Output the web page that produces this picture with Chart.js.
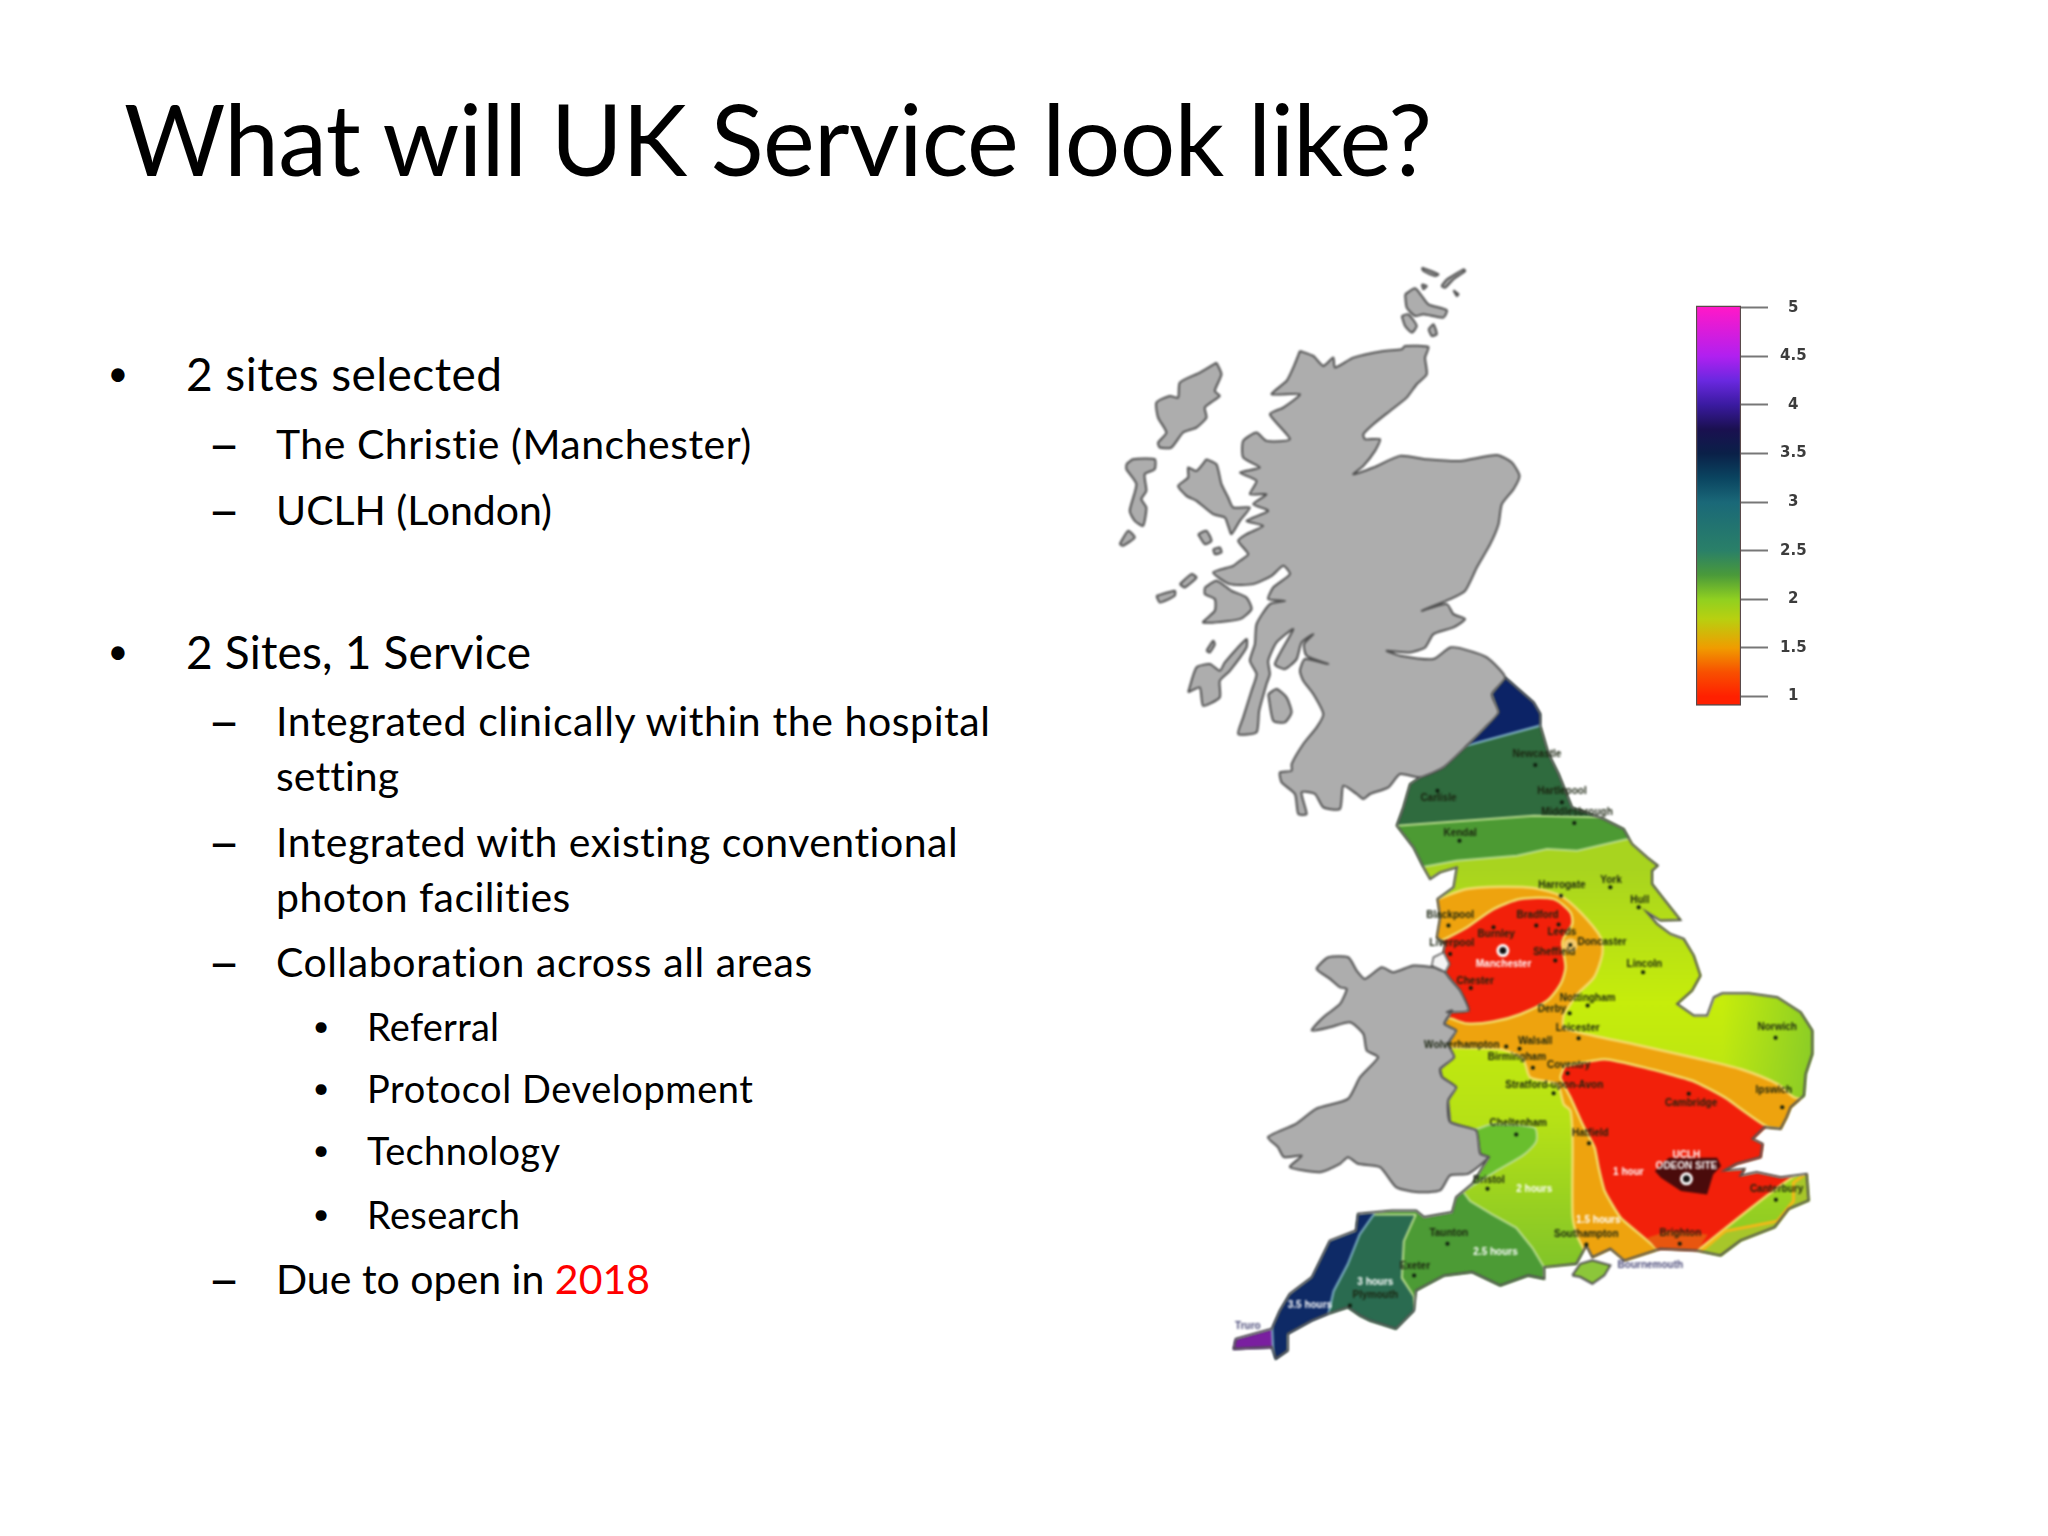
<!DOCTYPE html>
<html><head><meta charset="utf-8">
<script src="https://cdn.jsdelivr.net/npm/chart.js@4/dist/chart.umd.min.js"></script>
<style>
html,body{margin:0;padding:0;background:#fff;width:2048px;height:1536px;overflow:hidden}
canvas{position:absolute;display:block}
.t{position:absolute;white-space:pre;font-family:Lato,sans-serif;color:#000}
</style></head><body>
<script>
/* ---------- slide text ---------- */
const titleText = "What will UK Service look like?";
const slideTexts = ["2 sites selected","The Christie (Manchester)","UCLH (London)","2 Sites, 1 Service",
 "Integrated clinically within the hospital","setting","Integrated with existing conventional","photon facilities",
 "Collaboration across all areas","Referral","Protocol Development","Technology","Research","Due to open in "];
const slideLevels = [1,2,2,1,2,0,2,0,2,3,3,3,3,2];
const slideBaselines = [391,459,525,669,736,791,857,912,977,1041,1103,1165,1229,1294];
const slideRights = [502,752,552,531,990,398,959,571,813,499,753,560,520,650];

/* ---------- colour scale ---------- */
const scaleTicks = [1,1.5,2,2.5,3,3.5,4,4.5,5];
const scaleRange = [0.91,5.02];
const scaleStopValues = [5,4.5,4.25,4,3.75,3.5,3.25,3,2.5,2.25,2,1.8,1.5,1.25,1];
const scaleStopColours = ['#ff18c8','#b020f0','#6a28e0','#3a1aa0','#1a1050','#0a2048','#0a4460','#1a6878','#2a8068','#4a9a3a','#90d020','#b8d010','#f09c00','#f85000','#ff2000'];

/* ---------- map outlines (map units) ---------- */
const scotland=[[600,300],[640,315],[670,345],[700,320],[705,350],[760,320],[850,300],[905,295],[915,285],[985,288],[975,320],[980,370],[950,400],[920,440],[870,480],[820,520],[790,550],[795,565],[840,565],[825,600],[790,645],[760,670],[820,650],[900,615],[980,625],[1080,630],[1190,612],[1235,635],[1258,675],[1240,715],[1205,760],[1195,820],[1170,880],[1130,950],[1095,1020],[1050,1045],[965,1080],[1040,1060],[1060,1090],[1095,1105],[1060,1130],[1000,1150],[975,1190],[930,1205],[860,1200],[900,1215],[1000,1225],[1050,1190],[1090,1195],[1160,1220],[1215,1280],[1175,1330],[1195,1385],[1155,1430],[1105,1480],[1030,1550],[960,1580],[900,1570],[865,1610],[810,1630],[790,1645],[770,1630],[730,1605],[720,1675],[670,1670],[645,1630],[605,1625],[620,1690],[595,1690],[585,1630],[545,1595],[540,1565],[575,1560],[575,1540],[610,1480],[650,1430],[670,1390],[640,1330],[610,1290],[600,1260],[615,1225],[685,1240],[620,1215],[612,1180],[640,1150],[605,1175],[590,1225],[555,1255],[525,1240],[580,1135],[530,1175],[505,1230],[510,1270],[500,1300],[478,1380],[470,1445],[415,1450],[430,1400],[455,1320],[470,1270],[450,1230],[465,1180],[470,1120],[510,1060],[555,1050],[505,1045],[520,1010],[570,970],[550,945],[515,975],[460,1000],[390,1000],[340,965],[400,945],[420,930],[445,910],[415,870],[440,850],[490,825],[440,810],[505,780],[460,760],[500,730],[450,730],[470,690],[420,665],[480,650],[430,620],[430,570],[470,545],[500,570],[570,565],[510,490],[550,470],[600,430],[515,430],[560,390],[580,350]];
const wales=[[1035,2165],[1000,2150],[940,2145],[880,2165],[845,2150],[795,2185],[770,2160],[745,2120],[685,2120],[650,2155],[690,2185],[720,2210],[740,2215],[720,2260],[670,2300],[635,2340],[690,2330],[750,2315],[790,2350],[800,2400],[834,2420],[780,2480],[744,2545],[648,2575],[588,2620],[504,2660],[534,2690],[552,2720],[606,2715],[570,2750],[660,2765],[720,2740],[744,2720],[774,2740],[840,2750],[888,2810],[948,2825],[1020,2820],[1050,2775],[1104,2770],[1166,2720],[1140,2710],[1128,2640],[1050,2615],[1044,2550],[1068,2510],[1026,2480],[1020,2455],[1062,2420],[1044,2380],[1068,2340],[1032,2320],[1056,2280],[1040,2285],[1105,2280],[1080,2220],[1050,2185]];
const england=[[1215,1280],[1260,1320],[1300,1355],[1320,1390],[1320,1425],[1345,1510],[1375,1570],[1415,1670],[1510,1705],[1570,1735],[1595,1780],[1640,1820],[1672,1845],[1655,1860],[1655,1900],[1690,1945],[1740,2008],[1680,2010],[1640,1985],[1670,2020],[1710,2050],[1750,2065],[1780,2115],[1800,2175],[1775,2220],[1730,2260],[1780,2295],[1820,2295],[1840,2240],[1865,2228],[1945,2228],[2030,2240],[2100,2285],[2135,2340],[2135,2410],[2115,2470],[2110,2535],[2070,2570],[2058,2600],[2040,2635],[1992,2630],[1956,2665],[1986,2680],[1980,2720],[1908,2740],[1872,2760],[1932,2755],[1920,2775],[1968,2765],[2040,2780],[2118,2770],[2124,2850],[2064,2875],[2022,2930],[1920,2970],[1860,3015],[1788,3000],[1680,2995],[1572,3030],[1530,2995],[1476,3020],[1458,2985],[1428,3040],[1332,3050],[1332,3085],[1284,3075],[1200,3105],[1116,3065],[1032,3075],[948,3120],[942,3180],[888,3235],[810,3210],[780,3195],[744,3170],[684,3190],[636,3210],[564,3250],[564,3300],[528,3325],[516,3290],[402,3295],[408,3265],[516,3235],[540,3180],[570,3130],[636,3080],[690,2970],[768,2940],[774,2890],[876,2880],[948,2880],[972,2900],[1056,2885],[1068,2840],[1116,2800],[1166,2720],[1140,2710],[1128,2640],[1050,2615],[1044,2550],[1068,2510],[1026,2480],[1020,2455],[1062,2420],[1044,2380],[1068,2340],[1032,2320],[1056,2280],[1040,2285],[1105,2280],[1080,2220],[1050,2185],[1035,2165],[1048,2140],[1030,2105],[1035,2080],[1010,2060],[1020,2000],[1012,1945],[1060,1910],[1070,1850],[1020,1865],[990,1885],[970,1850],[940,1790],[890,1725],[910,1670],[930,1600],[960,1580],[1030,1550],[1105,1480],[1155,1430],[1195,1385],[1175,1330]];
const wirral=[[1030,2105],[1000,2120],[995,2145],[1035,2165],[1048,2140]];
const lewis=[[350,335],[365,370],[345,420],[360,435],[340,450],[315,470],[320,500],[290,530],[250,545],[215,590],[180,590],[175,575],[200,545],[175,500],[170,455],[210,435],[235,440],[240,395],[300,365]];
const uist=[[80,640],[100,625],[165,625],[165,655],[135,670],[140,720],[125,745],[140,770],[130,825],[105,810],[90,780],[110,700],[80,655]];
const barra=[[60,880],[85,840],[105,860],[70,885]];
const skye=[[320,625],[350,640],[365,700],[385,740],[400,770],[450,770],[420,810],[395,850],[385,825],[375,800],[340,790],[290,750],[260,735],[235,705],[265,680],[265,650],[290,660]];
const rum=[[295,850],[320,840],[335,870],[315,880]];
const eigg=[[340,895],[360,890],[365,905],[345,910]];
const coll=[[240,1000],[275,970],[290,980],[255,1010]];
const tiree=[[170,1035],[225,1020],[225,1035],[180,1055]];
const mull=[[315,1010],[350,990],[395,1020],[440,1040],[455,1075],[420,1105],[310,1115],[345,1080],[345,1045],[315,1030]];
const colonsay=[[320,1200],[340,1170],[345,1180],[330,1205]];
const islay=[[265,1325],[290,1250],[330,1240],[360,1260],[375,1235],[440,1165],[440,1190],[390,1260],[360,1290],[360,1340],[310,1365],[300,1310]];
const arran=[[505,1330],[530,1315],[560,1340],[575,1385],[555,1415],[520,1410]];
const orkney=[[915,130],[945,112],[965,135],[985,160],[1040,178],[1030,200],[970,190],[945,195],[920,170]];
const hoy=[[905,195],[925,190],[950,225],[935,245],[915,225]];
const ronaldsay=[[985,235],[1000,220],[1010,250],[995,255]];
const westray=[[965,50],[1015,70],[1005,75],[970,60]];
const sanday=[[1040,85],[1090,55],[1095,60],[1060,85],[1035,110],[1025,105]];
const northRonaldsay=[[1060,118],[1075,130],[1070,135]];
const rousay=[[965,100],[980,105],[970,115]];
const wight=[[1416,3075],[1440,3040],[1476,3030],[1530,3045],[1512,3075],[1476,3100],[1440,3080]];

/* ---------- travel-time zones, bottom to top ---------- */
const zBase=[[0,1200],[2280,1200],[2280,3450],[0,3450]];
const zEastFade=[[1800,2200],[2200,2200],[2200,2600],[1800,2600]];
const zMidGreen=[[800,1200],[1800,1200],[1800,1760],[1580,1765],[1430,1800],[1340,1795],[1250,1815],[1070,1830],[960,1850],[800,1850]];
const zDarkGreen=[[800,1200],[1800,1200],[1800,1695],[1515,1700],[1300,1695],[890,1725],[800,1730]];
const zNavy=[[1100,1485],[1320,1425],[1400,1200],[1000,1200]];
const zOrange=[[1012,1945],[1100,1915],[1200,1908],[1300,1912],[1380,1935],[1440,1985],[1500,2060],[1505,2110],[1480,2180],[1430,2230],[1400,2275],[1390,2290],[1390,2330],[1460,2350],[1600,2380],[1800,2425],[1920,2455],[2030,2500],[2080,2540],[2200,2560],[2200,2650],[2040,2650],[2000,2660],[1680,3000],[1680,3100],[1440,3100],[1458,3020],[1428,2950],[1416,2890],[1416,2670],[1410,2580],[1390,2560],[1370,2500],[1290,2480],[1275,2440],[1265,2420],[1200,2395],[1030,2390],[900,2390],[900,1950]];
const zRedNorth=[[1025,2070],[1100,2030],[1180,1975],[1260,1945],[1360,1945],[1410,1985],[1415,2020],[1390,2060],[1385,2080],[1395,2150],[1380,2200],[1340,2250],[1260,2290],[1180,2312],[1100,2318],[1040,2300],[900,2300],[900,2070]];
const zRedSouth=[[1392,2445],[1512,2425],[1632,2450],[1776,2490],[1872,2540],[2004,2630],[2200,2650],[2200,2800],[2088,2770],[1788,3000],[1740,3050],[1668,3050],[1668,2995],[1560,2900],[1512,2820],[1494,2750],[1482,2690],[1446,2620],[1410,2540],[1380,2480]];
const zBrighton=[[1668,2995],[1788,3000],[1820,2950],[1700,2940],[1640,2960]];
const zKent=[[1788,3010],[1872,2940],[2028,2910],[2076,2850],[2076,2795],[2136,2750],[2200,2900],[2200,3150],[1788,3150]];
const zLondon=[[1662,2760],[1704,2720],[1848,2720],[1860,2745],[1836,2770],[1818,2830],[1740,2820],[1680,2780]];
const zCheltenham=[[1128,2635],[1176,2620],[1302,2630],[1308,2670],[1272,2710],[1188,2760],[1140,2790],[1080,2820],[1000,2750],[1000,2640]];
const zSwGreen=[[1080,2810],[1110,2850],[1176,2890],[1248,2930],[1296,2990],[1332,3050],[1332,3200],[720,3350],[720,2850]];
const zSwDark=[[948,2890],[912,2970],[906,3080],[942,3135],[960,3350],[400,3350],[400,2890]];
const zSwNavy=[[822,2890],[780,2950],[744,3040],[702,3120],[684,3200],[500,3400],[300,3400],[300,2800],[822,2800]];
const zPurple=[[518,3220],[522,3310],[360,3350],[360,3220]];
const doncasterHalo=[[1410,2083]];

/* ---------- places ---------- */
const cityNames=["Newcastle","Carlisle","Hartlepool","Middlesbrough","Kendal","Harrogate","York","Hull","Blackpool","Liverpool","Burnley","Bradford","Leeds","Doncaster","Sheffield","Chester","Lincoln","Nottingham","Derby","Leicester","Norwich","Ipswich","Cambridge","Wolverhampton","Walsall","Birmingham","Coventry","Stratford-upon-Avon","Cheltenham","Bristol","Hatfield","Taunton","Exeter","Plymouth","Southampton","Brighton","Canterbury"];
const cityDots=[[1305,1543],[1012,1620],[1385,1655],[1422,1717],[1078,1770],[1382,1935],[1530,1910],[1615,1970],[1045,2025],[1050,2110],[1180,2030],[1308,2025],[1375,2022],[1410,2083],[1365,2130],[1112,2212],[1628,2165],[1462,2265],[1408,2288],[1435,2363],[2025,2362],[2045,2570],[1765,2530],[1218,2388],[1258,2395],[1298,2452],[1402,2468],[1360,2528],[1248,2652],[1162,2815],[1466,2678],[1042,2980],[942,3075],[750,3165],[1458,2982],[1738,2980],[2026,2848]];
const cityLabels=[[1310,1512],[1015,1642],[1385,1623],[1430,1685],[1080,1748],[1385,1905],[1532,1888],[1618,1948],[1050,1995],[1055,2078],[1188,2052],[1312,1993],[1385,2045],[1505,2075],[1362,2105],[1125,2193],[1632,2142],[1462,2242],[1355,2275],[1432,2332],[2030,2330],[2020,2520],[1772,2558],[1085,2385],[1305,2372],[1250,2420],[1405,2445],[1362,2503],[1254,2618],[1166,2790],[1470,2647],[1046,2948],[944,3048],[826,3135],[1458,2950],[1740,2948],[2028,2817]];
const whiteNames=["Manchester","UCLH","ODEON SITE","1 hour","2 hours","1.5 hours","2.5 hours","3 hours","3.5 hours"];
const whiteLabels=[[1210,2140],[1758,2715],[1758,2747],[1584,2765],[1302,2815],[1494,2908],[1186,3007],[826,3095],[630,3165]];
const greyNames=["Bournemouth","Truro"];
const greyLabels=[[1650,3045],[444,3228]];
const siteMarkers=[[1208,2100],[1758,2785]];

/* ---------- slide text layout ---------- */
const levelStyle={1:{m:'•',mx:118,tx:187,size:46},2:{m:'–',mx:224,tx:277,size:41},3:{m:'•',mx:321,tx:368,size:38},0:{m:'',mx:224,tx:277,size:41}};
const mctx=document.createElement('canvas').getContext('2d');
function place(html,x,base,size,right,plain){
  mctx.font=size+'px Lato';
  const asc=mctx.measureText('H').fontBoundingBoxAscent;
  const el=document.createElement('div');el.className='t';el.innerHTML=html;
  el.style.fontSize=size+'px';el.style.left=x+'px';el.style.top=(base-asc)+'px';el.style.lineHeight='normal';
  document.body.appendChild(el);
  if(right){const w=el.getBoundingClientRect().width;const n=plain.length-1;el.style.letterSpacing=((right-x-w)/n)+'px';}
  return el;
}
place(titleText,124,176,98,1432,titleText);
slideTexts.forEach((s,i)=>{
  const st=levelStyle[slideLevels[i]];
  let html=s,plain=s;
  if(s.startsWith('Due')){html=s+'<span style="color:#f00">2018</span>';plain=s+'2018';}
  place(html,st.tx-1,slideBaselines[i],st.size,slideRights[i],plain);
  if(st.m==='•'){const b=place(st.m,st.mx,slideBaselines[i]-5,st.size*0.78);b.style.transform='translateX(-50%)';}
  if(st.m==='–'){const b=place(st.m,st.mx,slideBaselines[i],st.size);b.style.transform='translateX(-50%) scaleX(1.35)';b.style.fontWeight='700';}
});

/* ---------- charts ---------- */
function addCanvas(l,t,w,h,blur){const c=document.createElement('canvas');c.width=w;c.height=h;
 c.style.left=l+'px';c.style.top=t+'px';c.style.width=w+'px';c.style.height=h+'px';c.style.filter='blur('+blur+'px)';document.body.appendChild(c);return c;}
const poly=(pts,bg,bc,bw,tn)=>({data:[...pts,pts[0]],showLine:true,pointRadius:0,tension:tn||0,fill:'shape',backgroundColor:bg,borderColor:bc,borderWidth:bw,clip:false});
const mapScales={x:{type:'linear',display:false,min:25,max:2254},y:{type:'linear',display:false,min:21,max:3425,reverse:true}};
const baseOpts={responsive:false,animation:false,devicePixelRatio:1,layout:{padding:0},events:[],plugins:{legend:{display:false},tooltip:{enabled:false}},scales:mapScales};

const zoneCanvas=addCanvas(1100,250,760,1150,0.8);
const zc=zoneCanvas.getContext('2d');
const g=zc.createLinearGradient(0,0,0,1150);
const baseStops=[[1850,'#a8d41f'],[2250,'#c6ed0b'],[2600,'#b6e116'],[3050,'#7fc32a']];
baseStops.forEach(([v,c])=>g.addColorStop((v-21)/3404,c));
const eastG=zc.createLinearGradient(622,0,721,0);
eastG.addColorStop(0,'rgba(110,190,50,0)');eastG.addColorStop(1,'rgba(110,190,50,0.7)');
const pale='#f3dc6a',paleG='#b9dc8c',paleB='#7fb2c4';
const zones=[
 poly(zBase,g,'transparent',0),
 poly(zEastFade,eastG,'transparent',0),
 poly(zMidGreen,'#4c9a33',paleG,2),
 poly(zDarkGreen,'#2f6b3e',paleG,2),
 poly(zNavy,'#0c2366',paleB,2),
 poly(zOrange,'#eea30e',pale,2.5,0.25),
 poly(zRedNorth,'#f2200a',pale,2.5,0.25),
 poly(zRedSouth,'#f2200a',pale,2.5,0.15),
 poly(zBrighton,'#e8560f','transparent',0),
 poly(zKent,'#a7c62a','#f4b818',3),
 poly(zLondon,'#4a0b0b','transparent',0),
 poly(zCheltenham,'#69bf2d',paleG,2,0.25),
 poly(zSwGreen,'#4c9b35',paleG,2),
 poly(zSwDark,'#2a6b50',paleG,2),
 poly(zSwNavy,'#0e2a66',paleB,2),
 poly(zPurple,'#7a1fa0',paleB,2),
 {data:doncasterHalo,pointRadius:7,backgroundColor:'#f5c96a',borderWidth:0,showLine:false}
].reverse();
const clipEngland={id:'clipEngland',
 beforeDatasetsDraw(ch){const c=ch.ctx,sx=ch.scales.x,sy=ch.scales.y;c.save();c.beginPath();
  england.forEach((p,i)=>{const X=sx.getPixelForValue(p[0]),Y=sy.getPixelForValue(p[1]);i?c.lineTo(X,Y):c.moveTo(X,Y);});c.closePath();c.clip();},
 afterDatasetsDraw(ch){ch.ctx.restore();}};
new Chart(zoneCanvas,{type:'scatter',data:{datasets:zones},options:baseOpts,plugins:[clipEngland]});

const landCanvas=addCanvas(1100,250,760,1150,0.8);
const G='#adadad',O='#4f4f4f',W=2;
const greys=[scotland,wales,lewis,uist,barra,skye,rum,eigg,coll,tiree,mull,colonsay,islay,arran,orkney,hoy,ronaldsay,westray,sanday,northRonaldsay,rousay];
const landSets=[
 {data:siteMarkers,showLine:false,pointRadius:5,borderWidth:3,borderColor:'#fff',backgroundColor:'#111'},
 {data:cityDots,showLine:false,pointRadius:2,borderWidth:0,backgroundColor:'#0c1a0c'},
 ...greys.map(p=>poly(p,G,O,W,0.2)),
 poly(wight,'#8cc63a',O,W),
 poly(wirral,'#f4f4f4',O,1.4),
 Object.assign(poly(england,'transparent',O,W),{fill:false})
];
const labelPlugin={id:'labels',afterDatasetsDraw(ch){
 const c=ch.ctx,sx=ch.scales.x,sy=ch.scales.y;c.save();c.textAlign='center';c.textBaseline='middle';
 const put=(names,pos,col,font)=>{c.fillStyle=col;c.font=font;names.forEach((n,i)=>c.fillText(n,sx.getPixelForValue(pos[i][0]),sy.getPixelForValue(pos[i][1])));};
 put(cityNames,cityLabels,'#1a2410','bold 10px "Liberation Sans"');
 put(whiteNames,whiteLabels,'#fff','bold 10px "Liberation Sans"');
 put(greyNames,greyLabels,'#4a4a78','bold 10px "Liberation Sans"');
 c.restore();}};
new Chart(landCanvas,{type:'scatter',data:{datasets:landSets},options:baseOpts,plugins:[labelPlugin]});

/* colour bar: 5 at y=307.5, 1 at y=696 */
const barMin=0.8,barMax=5.1,barCanvas=addCanvas(1696,298,165,418,0.5);
const bg=barCanvas.getContext('2d').createLinearGradient(0,0,0,418);
scaleStopValues.forEach((v,i)=>bg.addColorStop((barMax-v)/(barMax-barMin),scaleStopColours[i]));
new Chart(barCanvas,{type:'bar',data:{labels:['travel time'],datasets:[{data:[scaleRange],backgroundColor:bg,borderColor:'#5a4a4a',borderWidth:1.5,borderSkipped:false,barPercentage:1,categoryPercentage:1}]},
 options:{responsive:false,animation:false,devicePixelRatio:1,events:[],layout:{padding:0},plugins:{legend:{display:false},tooltip:{enabled:false}},
 scales:{x:{display:false},y:{position:'right',min:barMin,max:barMax,
  afterBuildTicks(a){a.ticks=scaleTicks.map(v=>({value:v}));},
  afterFit(a){a.width=120;a.paddingTop=0;a.paddingBottom=0;},
  grid:{drawOnChartArea:false,drawTicks:true,tickLength:27,tickColor:'#777',tickWidth:2},border:{display:false},
  ticks:{padding:12,crossAlign:'center',color:'#3c3c3c',font:{family:'"DejaVu Sans"',weight:'bold',size:15},callback:v=>String(v)}}}}});
</script></body></html>
